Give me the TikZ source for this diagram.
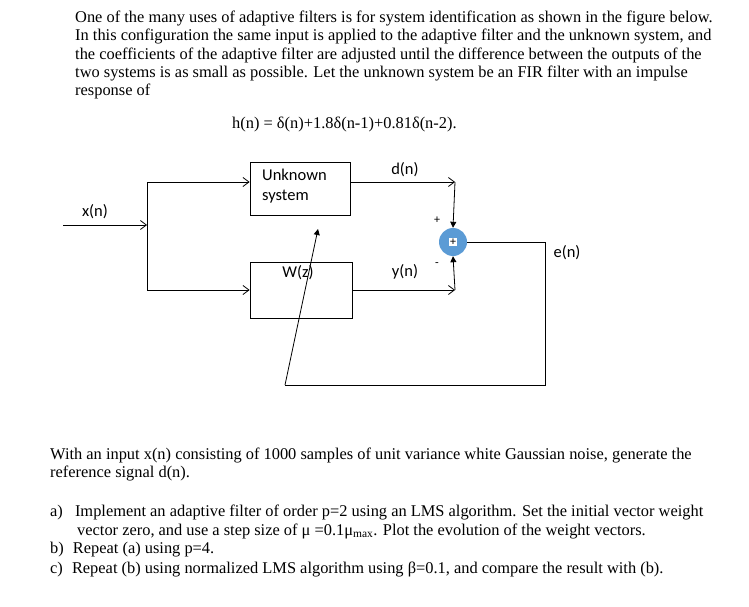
\documentclass[tikz,border=0pt]{standalone}
\usepackage{fontspec}
\setmainfont{Liberation Serif}
\newfontfamily\calfont{Carlito}
\usetikzlibrary{arrows.meta}
\definecolor{cblue}{HTML}{5B9BD5}
\begin{document}
\begin{tikzpicture}[x=1pt,y=-1pt,
  txt/.style={anchor=west,inner sep=0pt,font=\fontsize{16.4}{18}\selectfont},
  lab/.style={inner sep=0pt,font=\calfont\fontsize{16.5}{18}\selectfont},
  blk/.style={draw,thick,minimum width=100pt,inner sep=0pt},
  open/.style={-{Straight Barb[length=6pt,width=9pt]}},
  solid/.style={-{Triangle[length=6pt,width=6pt]}},
  ln/.style={line width=0.8pt}]
\useasboundingbox (0,0) rectangle (749,607);
\node[txt] (t1) at (75,18) {One of the many uses of adaptive filters is for system identification as shown in the figure below.};
\node[txt] (t2) at (75,36) {In this configuration the same input is applied to the adaptive filter and the unknown system, and};
\node[txt] (t3) at (75,55) {the coefficients of the adaptive filter are adjusted until the difference between the outputs of the};
\node[txt] (t4) at (75,73) {two systems is as small as possible. Let the unknown system be an FIR filter with an impulse};
\node[txt] (t5) at (75,91) {response of};
\node[txt] (h) at (232,125) {h(n) = δ(n)+1.8δ(n-1)+0.81δ(n-2).};

\node[blk,minimum height=53pt] (U) at (300,188.5) {};
\node[lab,align=left,anchor=north west] (Ut) at (262,169) {Unknown\\[2pt]system};
\node[blk,minimum height=56pt,minimum width=102pt] (W) at (301,290) {};
\node[lab] (Wt) at (298,273) {W(z)};
\node[circle,fill=cblue,minimum size=28pt,inner sep=0pt] (S) at (453,242) {};
\node[fill=white,inner sep=1pt,font=\calfont\fontsize{12}{12}\selectfont] (St) at (453,242) {+};
\node[lab] (xl) at (95,212) {x(n)};
\node[lab] (dl) at (405,170) {d(n)};
\node[lab] (yl) at (405,272) {y(n)};
\node[lab] (el) at (567,253) {e(n)};
\node[lab,font=\calfont\fontsize{12}{12}\selectfont] (pl) at (437,220) {+};
\node[lab,font=\calfont\fontsize{12}{12}\selectfont] (ml) at (437,265) {-};

\coordinate (xin) at (63,225);
\coordinate (sp) at (147,225);
\coordinate (dc) at (455,182);
\coordinate (yc) at (455,290);
\coordinate (ec) at (545,242);
\coordinate (eb) at (545,385);
\coordinate (ebl) at (285,385);
\coordinate (tip) at (318,229);
\draw[ln,open] (xin) -- (sp);
\draw[ln,open] (147,182) -- (U.west|-147,182);
\draw[ln,open] (147,290) -- (W.west|-147,290);
\draw[ln] (147,182) -- (147,290);
\draw[ln,open] (U.east|-dc) -- (dc);
\draw[ln,open] (W.east|-yc) -- (yc);
\draw[ln,solid] (dc) -- (S.north);
\draw[ln,solid] (yc) -- (S.south);
\draw[ln] (S.east) -- (ec) -- (eb) -- (ebl);
\draw[ln,solid] (ebl) -- (tip);

\node[txt] (b1) at (50,455) {With an input x(n) consisting of 1000 samples of unit variance white Gaussian noise, generate the};
\node[txt] (b2) at (50,473) {reference signal d(n).};
\node[txt] (a1) at (50,512) {a)\hspace{8pt} Implement an adaptive filter of order p=2 using an LMS algorithm. Set the initial vector weight};
\node[txt] (a2) at (77,531) {vector zero, and use a step size of μ =0.1μ\textsubscript{max}. Plot the evolution of the weight vectors.};
\node[txt] (bb) at (50,550) {b)\hspace{5pt} Repeat (a) using p=4.};
\node[txt] (cc) at (50,569) {c)\hspace{5pt} Repeat (b) using normalized LMS algorithm using β=0.1, and compare the result with (b).};
\end{tikzpicture}
\end{document}
